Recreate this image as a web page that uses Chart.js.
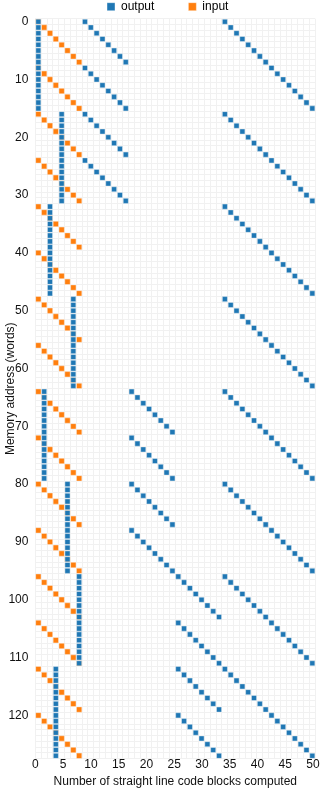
<!DOCTYPE html>
<html>
<head>
<meta charset="utf-8">
<title>Memory access pattern</title>
<script src="https://cdn.jsdelivr.net/npm/chart.js@4.4.1/dist/chart.umd.min.js"></script>
<style>
  html, body { margin: 0; padding: 0; background: #fff; }
  canvas { display: block; }
</style>
</head>
<body>
<canvas id="chart" width="322" height="791"></canvas>
<script>
// Position of each block column on the "blocks computed" axis (48 columns).
const blockX = [
  0.53, 1.58, 2.63, 3.68, 4.73, 5.78, 6.83, 7.88,
  8.93, 9.98, 11.03, 12.08, 13.13, 14.18, 15.23, 16.28,
  17.33, 18.38, 19.43, 20.48, 21.53, 22.58, 23.63, 24.68,
  25.73, 26.78, 27.83, 28.88, 29.93, 30.98, 32.03, 33.08,
  34.13, 35.18, 36.23, 37.28, 38.33, 39.38, 40.43, 41.48,
  42.53, 43.58, 44.63, 45.68, 46.73, 47.78, 48.83, 49.88
];

// One entry per memory word (the index is the address): the block that reads it.
const inputBlock = [
  0, 1, 2, 3, 4, 5, 6, 7, 0, 1, 2, 3, 4, 5, 6, 7,
  0, 1, 2, 3, 4, 5, 6, 7, 0, 1, 2, 3, 4, 5, 6, 7,
  0, 1, 2, 3, 4, 5, 6, 7, 0, 1, 2, 3, 4, 5, 6, 7,
  0, 1, 2, 3, 4, 5, 6, 7, 0, 1, 2, 3, 4, 5, 6, 7,
  0, 1, 2, 3, 4, 5, 6, 7, 0, 1, 2, 3, 4, 5, 6, 7,
  0, 1, 2, 3, 4, 5, 6, 7, 0, 1, 2, 3, 4, 5, 6, 7,
  0, 1, 2, 3, 4, 5, 6, 7, 0, 1, 2, 3, 4, 5, 6, 7,
  0, 1, 2, 3, 4, 5, 6, 7, 0, 1, 2, 3, 4, 5, 6, 7
];

// Blocks that write each word: first pass, middle pass (null = not written), last pass.
const columnBlock = [
  0, 0, 0, 0, 0, 0, 0, 0, 0, 0, 0, 0, 0, 0, 0, 0,
  4, 4, 4, 4, 4, 4, 4, 4, 4, 4, 4, 4, 4, 4, 4, 4,
  2, 2, 2, 2, 2, 2, 2, 2, 2, 2, 2, 2, 2, 2, 2, 2,
  6, 6, 6, 6, 6, 6, 6, 6, 6, 6, 6, 6, 6, 6, 6, 6,
  1, 1, 1, 1, 1, 1, 1, 1, 1, 1, 1, 1, 1, 1, 1, 1,
  5, 5, 5, 5, 5, 5, 5, 5, 5, 5, 5, 5, 5, 5, 5, 5,
  7, 7, 7, 7, 7, 7, 7, 7, 7, 7, 7, 7, 7, 7, 7, 7,
  3, 3, 3, 3, 3, 3, 3, 3, 3, 3, 3, 3, 3, 3, 3, 3
];

const passBlock = [
  8, 9, 10, 11, 12, 13, 14, 15, 8, 9, 10, 11, 12, 13, 14, 15,
  8, 9, 10, 11, 12, 13, 14, 15, 8, 9, 10, 11, 12, 13, 14, 15,
  null, null, null, null, null, null, null, null, null, null, null, null, null, null, null, null,
  null, null, null, null, null, null, null, null, null, null, null, null, null, null, null, null,
  16, 17, 18, 19, 20, 21, 22, 23, 16, 17, 18, 19, 20, 21, 22, 23,
  16, 17, 18, 19, 20, 21, 22, 23, 16, 17, 18, 19, 20, 21, 22, 23,
  24, 25, 26, 27, 28, 29, 30, 31, 24, 25, 26, 27, 28, 29, 30, 31,
  24, 25, 26, 27, 28, 29, 30, 31, 24, 25, 26, 27, 28, 29, 30, 31
];

const finalBlock = [
  32, 33, 34, 35, 36, 37, 38, 39, 40, 41, 42, 43, 44, 45, 46, 47,
  32, 33, 34, 35, 36, 37, 38, 39, 40, 41, 42, 43, 44, 45, 46, 47,
  32, 33, 34, 35, 36, 37, 38, 39, 40, 41, 42, 43, 44, 45, 46, 47,
  32, 33, 34, 35, 36, 37, 38, 39, 40, 41, 42, 43, 44, 45, 46, 47,
  32, 33, 34, 35, 36, 37, 38, 39, 40, 41, 42, 43, 44, 45, 46, 47,
  32, 33, 34, 35, 36, 37, 38, 39, 40, 41, 42, 43, 44, 45, 46, 47,
  32, 33, 34, 35, 36, 37, 38, 39, 40, 41, 42, 43, 44, 45, 46, 47,
  32, 33, 34, 35, 36, 37, 38, 39, 40, 41, 42, 43, 44, 45, 46, 47
];

const xTickValues = [0, 5, 10, 15, 20, 25, 30, 35, 40, 45, 50];
const yTickValues = [0, 10, 20, 30, 40, 50, 60, 70, 80, 90, 100, 110, 120];

const FONT = "'Liberation Sans', Arial, Helvetica, sans-serif";
const TEXT_COLOR = '#111';
const GRID_COLOR = '#f1f1f1';
const OUTPUT_COLOR = '#1f77b4';
const INPUT_COLOR = '#ff7f0e';
const CELL_EDGE = 'rgba(255, 255, 255, 0.4)';

// Turn the per-address block lists into scatter points.
function toPoints(lists) {
  const points = [];
  lists.forEach((list) => {
    list.forEach((block, address) => {
      if (block === null) return;
      points.push({ x: blockX[block], y: address });
    });
  });
  return points;
}

const outputPoints = toPoints([columnBlock, passBlock, finalBlock]);
const inputPoints = toPoints([inputBlock]);

// The legend uses wide item spacing, so pull its row back up to the top edge.
const legendPlacement = {
  id: 'legendPlacement',
  beforeDraw(chart) {
    const legend = chart.legend;
    const pad = legend.options.labels.padding;
    legend.top = 0.7 - pad;
    legend.left = 6.7;
    legend.right = chart.width + 6.7;
  }
};

Chart.defaults.font.family = FONT;
Chart.defaults.font.size = 12;
Chart.defaults.color = TEXT_COLOR;

const cellStyle = {
  pointStyle: 'rect',
  borderWidth: 1,
  borderColor: CELL_EDGE
};

new Chart(document.getElementById('chart'), {
  type: 'scatter',
  data: {
    datasets: [
      { label: 'output', data: outputPoints, backgroundColor: OUTPUT_COLOR, pointRadius: 3.6, ...cellStyle },
      { label: 'input', data: inputPoints, backgroundColor: INPUT_COLOR, pointRadius: 3.8, ...cellStyle }
    ]
  },
  options: {
    responsive: false,
    animation: false,
    events: [],
    layout: { padding: { top: 0, right: 6.8, bottom: 0, left: 0 } },
    plugins: {
      tooltip: { enabled: false },
      legend: {
        position: 'top',
        maxHeight: 18.8,
        labels: {
          boxWidth: 8,
          boxHeight: 8,
          padding: 34,
          color: '#000',
          font: { family: FONT, size: 12 }
        }
      }
    },
    scales: {
      x: {
        type: 'linear',
        position: 'bottom',
        min: 0,
        max: 50.4,
        afterBuildTicks: (scale) => { scale.ticks = xTickValues.map((v) => ({ value: v })); },
        afterFit: (scale) => { scale.height = 32.3; },
        grid: { display: false, drawTicks: false },
        border: { display: false },
        ticks: { padding: -1.5, color: TEXT_COLOR, font: { size: 12 } },
        title: {
          display: true,
          text: 'Number of straight line code blocks computed',
          color: TEXT_COLOR,
          font: { size: 12 },
          padding: { top: 0, bottom: 2 }
        }
      },
      xGrid: {
        type: 'linear',
        axis: 'x',
        position: 'bottom',
        min: 0,
        max: 50.4,
        afterFit: (scale) => { scale.height = 0; },
        ticks: { display: false, stepSize: 1.05 },
        grid: { color: GRID_COLOR, lineWidth: 1, drawTicks: false },
        border: { display: false }
      },
      y: {
        type: 'linear',
        position: 'left',
        reverse: true,
        min: -0.5,
        max: 127.5,
        afterBuildTicks: (scale) => { scale.ticks = yTickValues.map((v) => ({ value: v })); },
        afterFit: (scale) => { scale.width = 35.4; },
        grid: { display: false, drawTicks: false },
        border: { display: false },
        ticks: { padding: 7, color: TEXT_COLOR, font: { size: 12 } },
        title: {
          display: true,
          text: 'Memory address (words)',
          color: TEXT_COLOR,
          font: { size: 12 },
          padding: { top: 3, bottom: 0 }
        }
      },
      yGrid: {
        type: 'linear',
        axis: 'y',
        position: 'left',
        reverse: true,
        min: -0.5,
        max: 127.5,
        afterFit: (scale) => { scale.width = 0; },
        ticks: { display: false, stepSize: 1 },
        grid: { color: GRID_COLOR, lineWidth: 1, drawTicks: false },
        border: { display: false }
      }
    }
  },
  plugins: [legendPlacement]
});
</script>
</body>
</html>
